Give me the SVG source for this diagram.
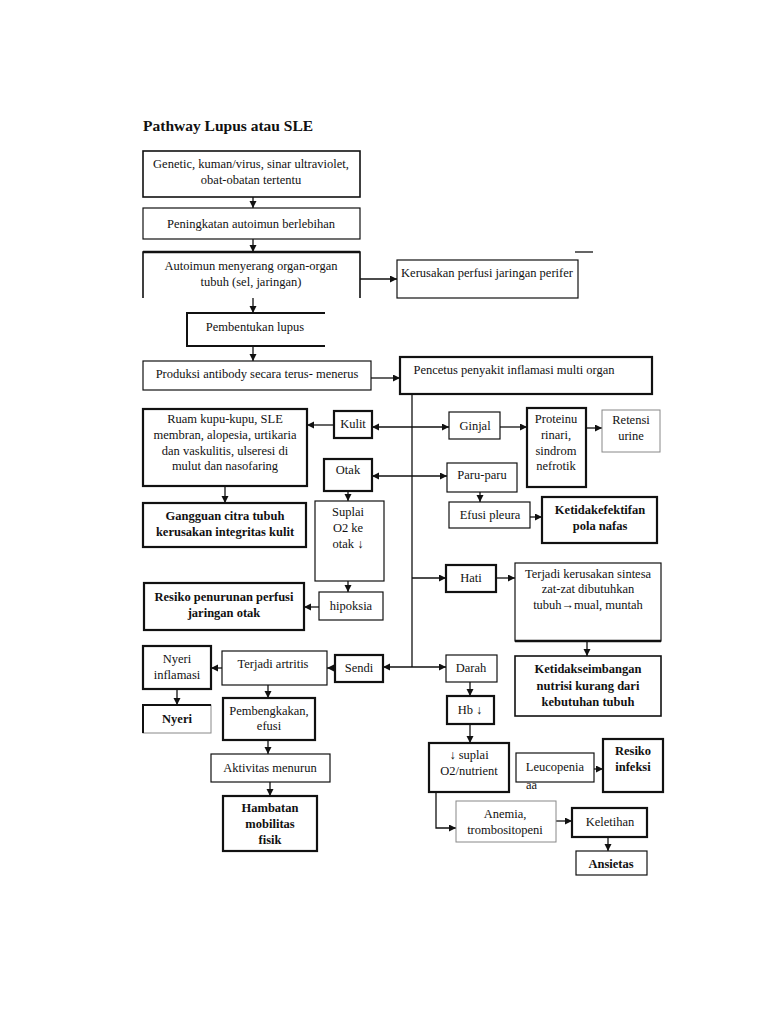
<svg xmlns="http://www.w3.org/2000/svg" width="768" height="1024" viewBox="0 0 768 1024">
<style>
text{font-family:"Liberation Serif","Times New Roman",serif;font-size:12.5px;fill:#111;text-anchor:middle}
.bd{font-weight:bold}
.title{font-size:15.5px;font-weight:bold;text-anchor:start}
rect,.bx{fill:#fff;stroke:#111;stroke-width:1.2}
.tk{stroke-width:2.2}
.lt{stroke:#888;stroke-width:1}
.c{fill:none;stroke:#111;stroke-width:1.3}
.a{marker-end:url(#ah)}
.d{marker-start:url(#ah);marker-end:url(#ah)}
</style>
<defs>
<marker id="ah" markerUnits="userSpaceOnUse" markerWidth="8" markerHeight="8" refX="7" refY="3.5" orient="auto-start-reverse"><path d="M0,0 L7,3.5 L0,7 z" fill="#111"/></marker>
</defs>
<rect x="0" y="0" width="768" height="1024" style="fill:#fff;stroke:none"/>
<text class="title" x="143" y="131">Pathway Lupus atau SLE</text>

<g id="connectors">
<line class="c a" x1="253" y1="197" x2="253" y2="208"/>
<line class="c a" x1="253" y1="239" x2="253" y2="252"/>
<line class="c a" x1="360" y1="279" x2="397" y2="279"/>
<line class="c a" x1="253" y1="298" x2="253" y2="313"/>
<line class="c a" x1="253" y1="346" x2="253" y2="361"/>
<line class="c a" x1="371" y1="378" x2="400" y2="378"/>
<line class="c" x1="412" y1="394" x2="412" y2="667"/>
<line class="c d" x1="372" y1="427" x2="449" y2="427"/>
<line class="c d" x1="372" y1="476" x2="447" y2="476"/>
<line class="c a" x1="334" y1="425" x2="307" y2="425"/>
<line class="c a" x1="348" y1="491" x2="348" y2="501"/>
<line class="c a" x1="225" y1="486" x2="225" y2="503"/>
<line class="c a" x1="348" y1="581" x2="348" y2="592"/>
<line class="c a" x1="319" y1="607" x2="304" y2="607"/>
<line class="c a" x1="500" y1="427" x2="527" y2="427"/>
<line class="c a" x1="586" y1="428" x2="602" y2="428"/>
<line class="c a" x1="480" y1="492" x2="480" y2="502"/>
<line class="c a" x1="530" y1="517" x2="542" y2="517"/>
<line class="c a" x1="412" y1="578" x2="446" y2="578"/>
<line class="c a" x1="496" y1="578" x2="515" y2="578"/>
<line class="c a" x1="587" y1="641" x2="587" y2="656"/>
<line class="c d" x1="383" y1="667" x2="446" y2="667"/>
<line class="c a" x1="470" y1="682" x2="470" y2="696"/>
<line class="c a" x1="470" y1="724" x2="470" y2="743"/>
<line class="c a" x1="594" y1="769" x2="603" y2="769"/>
<path class="c a" d="M436,792 V828 H456"/>
<line class="c a" x1="556" y1="821" x2="572" y2="821"/>
<line class="c a" x1="608" y1="837" x2="608" y2="851"/>
<line class="c a" x1="335" y1="668" x2="327" y2="668"/>
<line class="c a" x1="222" y1="668" x2="211" y2="668"/>
<line class="c a" x1="177" y1="689" x2="177" y2="705"/>
<line class="c a" x1="268" y1="685" x2="268" y2="698"/>
<line class="c a" x1="268" y1="740" x2="268" y2="754"/>
<line class="c a" x1="270" y1="782" x2="270" y2="796"/>
<line class="c" x1="575" y1="252" x2="593" y2="252"/>
</g>

<g id="n1"><rect x="143" y="151" width="217" height="46" style="stroke-width:1.6"/><text x="251" y="168">Genetic, kuman/virus, sinar ultraviolet,</text><text x="251" y="184">obat-obatan tertentu</text></g>
<g id="n2"><rect x="143" y="208" width="217" height="31"/><text x="251" y="228">Peningkatan autoimun berlebihan</text></g>
<g id="n3"><path class="bx" d="M143,298 V252 H360 V298" style="fill:none;stroke-width:1.6"/><line x1="143" y1="252" x2="360" y2="252" style="stroke:#111;stroke-width:2.4"/><text x="251" y="270">Autoimun menyerang organ-organ</text><text x="251" y="286">tubuh (sel, jaringan)</text></g>
<g id="n4"><rect x="397" y="260" width="181" height="38"/><text x="487" y="277">Kerusakan perfusi jaringan perifer</text></g>
<g id="n5"><path class="bx" d="M325,313 H187 V346 H325" style="fill:none;stroke-width:2"/><text x="255" y="331">Pembentukan lupus</text></g>
<g id="n6"><rect x="143" y="361" width="228" height="29"/><text x="257" y="378">Produksi antibody secara terus- menerus</text></g>
<g id="n7"><rect x="400" y="357" width="252" height="37" class="tk"/><text x="514" y="374">Pencetus penyakit inflamasi multi organ</text></g>
<g id="n8"><rect x="143" y="409" width="164" height="77" class="tk"/><text x="225" y="423">Ruam kupu-kupu, SLE</text><text x="225" y="439">membran, alopesia, urtikaria</text><text x="225" y="455">dan vaskulitis, ulseresi di</text><text x="225" y="470">mulut dan nasofaring</text></g>
<g id="n9"><rect x="334" y="411" width="38" height="27" class="tk"/><text x="353" y="428">Kulit</text></g>
<g id="n10"><rect x="324" y="459" width="48" height="32" class="tk"/><text x="348" y="474">Otak</text></g>
<g id="n11"><rect x="315" y="501" width="69" height="80"/><text x="348" y="516">Suplai</text><text x="348" y="532">O2 ke</text><text x="348" y="548">otak ↓</text></g>
<g id="n12"><rect x="143" y="503" width="163" height="44" class="tk"/><text class="bd" x="225" y="520">Gangguan citra tubuh</text><text class="bd" x="225" y="536">kerusakan integritas kulit</text></g>
<g id="n13"><rect x="319" y="592" width="64" height="28"/><text x="351" y="610">hipoksia</text></g>
<g id="n14"><rect x="144" y="583" width="160" height="47" class="tk"/><text class="bd" x="224" y="601">Resiko penurunan perfusi</text><text class="bd" x="224" y="617">jaringan otak</text></g>
<g id="n15"><rect x="449" y="412" width="51" height="27"/><text x="475" y="430">Ginjal</text></g>
<g id="n16"><rect x="527" y="408" width="59" height="79" class="tk"/><text x="556" y="423">Proteinu</text><text x="556" y="439">rinari,</text><text x="556" y="455">sindrom</text><text x="556" y="470">nefrotik</text></g>
<g id="n17"><rect x="602" y="410" width="58" height="42" class="lt"/><text x="631" y="424">Retensi</text><text x="631" y="440">urine</text></g>
<g id="n18"><rect x="447" y="463" width="70" height="29"/><text x="482" y="479">Paru-paru</text></g>
<g id="n19"><rect x="449" y="502" width="81" height="26"/><text x="490" y="519">Efusi pleura</text></g>
<g id="n20"><rect x="542" y="497" width="115" height="46" class="tk"/><text class="bd" x="600" y="514">Ketidakefektifan</text><text class="bd" x="600" y="530">pola nafas</text></g>
<g id="n21"><rect x="446" y="565" width="50" height="27" class="tk"/><text x="471" y="582">Hati</text></g>
<g id="n22"><rect x="515" y="563" width="146" height="78"/><line x1="515" y1="641" x2="661" y2="641" style="stroke:#111;stroke-width:2.4"/><text x="588" y="578">Terjadi kerusakan sintesa</text><text x="588" y="593">zat-zat dibutuhkan</text><text x="588" y="609">tubuh→mual, muntah</text></g>
<g id="n23"><rect x="515" y="656" width="146" height="60" style="stroke-width:1.6"/><text class="bd" x="588" y="673">Ketidakseimbangan</text><text class="bd" x="588" y="690">nutrisi kurang dari</text><text class="bd" x="588" y="706">kebutuhan tubuh</text></g>
<g id="n24"><rect x="446" y="655" width="51" height="27"/><text x="471" y="672">Darah</text></g>
<g id="n25"><rect x="447" y="696" width="47" height="28" class="tk"/><text x="470" y="714">Hb ↓</text></g>
<g id="n26"><rect x="429" y="743" width="80" height="49" class="tk"/><text x="469" y="759">↓ suplai</text><text x="469" y="775">O2/nutrient</text></g>
<g id="n27"><rect x="516" y="753" width="78" height="29"/><text x="555" y="771">Leucopenia</text><text x="526" y="789" style="text-anchor:start">aa</text></g>
<g id="n28"><rect x="603" y="739" width="60" height="53" class="tk"/><text class="bd" x="633" y="755">Resiko</text><text class="bd" x="633" y="771">infeksi</text></g>
<g id="n29"><rect x="456" y="801" width="100" height="41" class="lt"/><text x="505" y="818">Anemia,</text><text x="505" y="834">trombositopeni</text></g>
<g id="n30"><rect x="572" y="808" width="75" height="29" class="tk"/><text x="610" y="826">Keletihan</text></g>
<g id="n31"><rect x="576" y="851" width="71" height="24"/><text class="bd" x="611" y="868">Ansietas</text></g>
<g id="n32"><rect x="335" y="655" width="48" height="27" class="tk"/><text x="359" y="672">Sendi</text></g>
<g id="n33"><rect x="222" y="651" width="105" height="34"/><text x="273" y="668">Terjadi  artritis</text></g>
<g id="n34"><rect x="143" y="646" width="68" height="43" class="tk"/><text x="177" y="663">Nyeri</text><text x="177" y="679">inflamasi</text></g>
<g id="n35"><rect x="143" y="705" width="68" height="28" class="lt"/><path d="M211,705 H143 V733" style="fill:none;stroke:#111;stroke-width:2"/><text class="bd" x="177" y="723">Nyeri</text></g>
<g id="n36"><rect x="223" y="698" width="92" height="42" class="tk"/><text x="269" y="715">Pembengkakan,</text><text x="269" y="730">efusi</text></g>
<g id="n37"><rect x="211" y="754" width="119" height="28"/><text x="270" y="772">Aktivitas menurun</text></g>
<g id="n38"><rect x="223" y="796" width="94" height="55" class="tk"/><text class="bd" x="270" y="812">Hambatan</text><text class="bd" x="270" y="828">mobilitas</text><text class="bd" x="270" y="844">fisik</text></g>
</svg>
